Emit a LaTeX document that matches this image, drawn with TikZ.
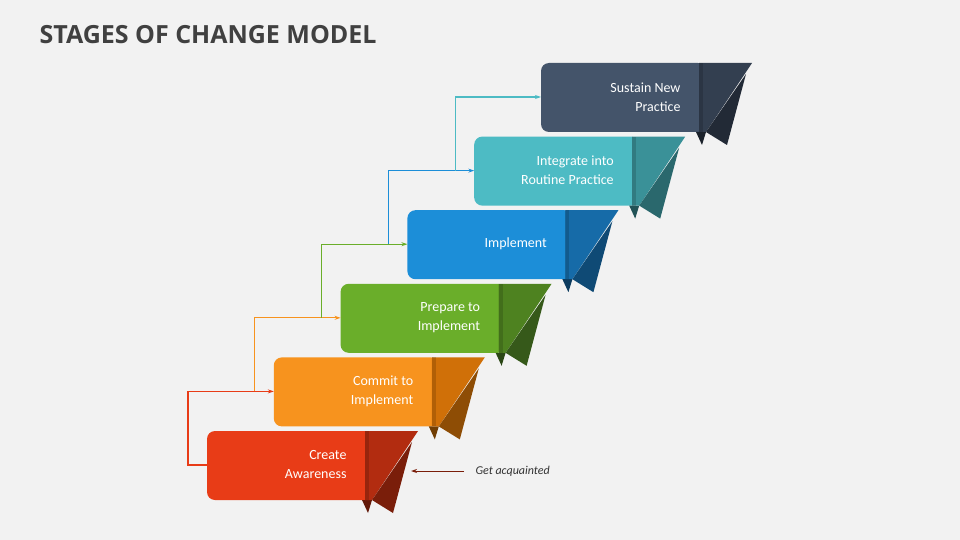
\documentclass[tikz,border=0pt]{standalone}
\usepackage{fontspec}
\setmainfont{Carlito}
\newfontfamily\titlefont{Open Sans}
\usetikzlibrary{arrows.meta}
\definecolor{bg}{HTML}{F2F2F2}
\definecolor{cA}{HTML}{E83C17}\definecolor{cAd}{HTML}{B22C10}\definecolor{cAk}{HTML}{7A1E0A}
\definecolor{cB}{HTML}{F7931E}\definecolor{cBd}{HTML}{D07008}\definecolor{cBk}{HTML}{8E4D05}
\definecolor{cC}{HTML}{6AAE2A}\definecolor{cCd}{HTML}{4E8220}\definecolor{cCk}{HTML}{36591A}
\definecolor{cD}{HTML}{1C8ED8}\definecolor{cDd}{HTML}{166BA8}\definecolor{cDk}{HTML}{0F4A75}
\definecolor{cE}{HTML}{4DBBC4}\definecolor{cEd}{HTML}{3A9198}\definecolor{cEk}{HTML}{2A686D}
\definecolor{cF}{HTML}{44546A}\definecolor{cFd}{HTML}{333F50}\definecolor{cFk}{HTML}{222A36}
\tikzset{
 lbl/.style={text=white,align=right,anchor=east,font=\fontsize{14}{19}\selectfont},
 conn/.style={line width=1.2pt,-{Stealth[length=6pt,width=4pt]}}
}
\begin{document}
\begin{tikzpicture}[x=1pt,y=-1pt]
\fill[bg] (0,0) rectangle (960,540);
\useasboundingbox (0,0) rectangle (960,540);
\node[anchor=west,text=black!75,font=\titlefont\bfseries\fontsize{25}{30}\selectfont] (title) at (36,35) {STAGES OF CHANGE MODEL};
\foreach \i/\c/\t in {0/A/{Create\\Awareness},1/B/{Commit to\\Implement},2/C/{Prepare to\\Implement},3/D/{Implement},4/E/{Integrate into\\Routine Practice},5/F/{Sustain New\\Practice}}{
 \begin{scope}[shift={(66.8*\i,-73.6*\i)}]
  \fill[c\c, rounded corners=8pt] (207,431) rectangle (372,500);
  \fill[c\c k!80!black] (362,500) -- (372,500) -- (368,513) -- cycle;
  \fill[c\c d] (365,431) -- (418,431) -- (372,500) -- (365,500) -- cycle;
  \fill[black,opacity=0.15] (365,431) rectangle (369,500);
  \fill[c\c k] (372,500) -- (412,442) -- (393,513) -- cycle;
  \node[lbl] (n\i) at (350,465) {\t};
  \coordinate (w\i) at (207,465);
 \end{scope}
}
\draw[conn,cA] (w0) -- ++(-19,0) |- (w1);
\draw[conn,cB] (w1) ++(-19,0) |- (w2);
\draw[conn,cC] (w2) ++(-19,0) |- (w3);
\draw[conn,cD] (w3) ++(-19,0) |- (w4);
\draw[conn,cE] (w4) ++(-19,0) |- (w5);
\node[anchor=west,font=\itshape\fontsize{12}{14}\selectfont,text=black!80] (ga) at (472,471) {Get acquainted};
\draw[conn,line width=1pt,cAk] (ga.west) ++(-8,0) coordinate (gs) (gs) -- (411,471);
\end{tikzpicture}
\end{document}
